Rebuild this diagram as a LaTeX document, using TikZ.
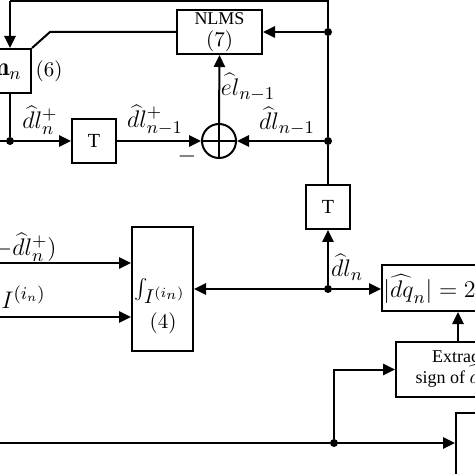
\documentclass[tikz,border=0pt]{standalone}
\usepackage{fontspec}
\newfontfamily\tms{Liberation Serif}
\usetikzlibrary{arrows.meta,calc}
\newlength\px \setlength\px{0.5pt}
\begin{document}
\begin{tikzpicture}[x=0.5pt,y=-0.5pt,
  blk/.style={draw, line width=1pt, rectangle, inner sep=0pt, align=center},
  conn/.style={line width=1pt},
  arr/.style={conn, -{Triangle[length=6pt,width=5.6pt]}},
  jdot/.style={circle, fill, inner sep=0pt, minimum size=8\px},
  lbl/.style={inner sep=0pt, font=\fontsize{13}{15}\selectfont},
  eqn/.style={inner sep=0pt, font=\fontsize{10.5}{12}\selectfont},
  txt/.style={font=\tms\fontsize{9}{10.5}\selectfont}]
\useasboundingbox (0,0) rectangle (474,474);
% blocks
\node[blk, minimum width=71\px, minimum height=44\px] (mbox) at (-4.5,71) {};
\node[lbl, anchor=base east] (mtxt) at (22,76) {$\mathbf{m}_n$};
\node[eqn] (eq6) at (49,71) {(6)};
\node[blk, minimum width=85\px, minimum height=44\px] (nlms) at (219.5,32) {{\tms\fontsize{9}{10.5}\selectfont NLMS}\\[-1pt]{\fontsize{10.5}{12}\selectfont(7)}};
\node[blk, minimum width=44\px, minimum height=44\px, font=\tms\fontsize{10}{12}\selectfont] (t1) at (94,141) {T};
\node[draw, line width=1pt, circle, inner sep=0pt, minimum size=34\px] (sum) at (219,141) {};
\node[blk, minimum width=44\px, minimum height=44\px, font=\tms\fontsize{10}{12}\selectfont] (t2) at (328,207) {T};
\node[blk, minimum width=61\px, minimum height=124\px] (intg) at (162.5,289) {};
\node[inner sep=0pt, font=\Large] (intgtxt) at (160,291) {$\int_{I^{(i_n)}}$};
\node[eqn] (eq4) at (163,323) {(4)};
\node[blk, minimum width=200\px, minimum height=46\px, anchor=west] (dq) at (381,288) {};
\node[lbl, anchor=west] (dqtxt) at (383,289) {$|\widehat{dq}_n| = 2$};
\node[blk, txt, minimum width=124\px, minimum height=55\px] (ext) at (458,369.5) {Extract\\sign of {\normalsize$\widehat{dq}_n$}};
\node[blk, minimum width=100\px, minimum height=80\px, anchor=north west] (bot) at (455,412) {};
% junctions
\node[jdot] (d1) at (10,141) {};
\node[jdot] (d2) at (328,32) {};
\node[jdot] (d3) at (328,141) {};
\node[jdot] (d4) at (328,289) {};
\node[jdot] (d5) at (334,443) {};
\coordinate (tl) at (10,0.8);
\coordinate (tr) at (328,0.8);
\coordinate (bend) at (50,32);
\coordinate (lin0) at (0,141);
\coordinate (in1) at (0,263);
\coordinate (in2) at (0,317);
\coordinate (in3) at (0,443);
% plus sign
\draw[conn] (sum.north) -- (sum.south);
\draw[conn] (sum.west) -- (sum.east);
% connectors
\draw[conn] (t2.north) -- (d3) -- (d2) -- (tr) -- (tl);
\draw[arr] (tl) -- (tl |- mbox.north);
\draw[arr] (d2) -- (nlms.east);
\draw[conn] (nlms.west) -- (bend) -- (mbox.north east);
\draw[conn] (d1 |- mbox.south) -- (d1);
\draw[conn] (lin0) -- (d1);
\draw[arr] (d1) -- (t1.west);
\draw[arr] (t1.east) -- (sum.west);
\draw[arr] (d3) -- (sum.east);
\draw[arr] (sum.north) -- (nlms.south);
\draw[arr] (d4) -- (t2.south);
\draw[arr] (d4) -- (intg.east |- d4);
\draw[arr] (d4) -- (dq.west |- d4);
\draw[arr] (in1) -- (in1 -| intg.west);
\draw[arr] (in2) -- (in2 -| intg.west);
\draw[arr] (ext.north) -- (ext.north |- dq.south);
\draw[conn] (in3) -- (d5);
\draw[arr] (d5) -- (d5 -| bot.west);
\draw[arr] (d5) |- (ext.west);
% labels
\node[lbl] (l1) at (40,120) {$\widehat{dl}{}_n^{+}$};
\node[lbl] (l2) at (155,120) {$\widehat{dl}{}_{n-1}^{+}$};
\node[lbl] (lm) at (187,157) {$-$};
\node[lbl] (l3) at (248,87) {$\widehat{el}_{n-1}$};
\node[lbl] (l4) at (287,121) {$\widehat{dl}_{n-1}$};
\node[lbl] (l5) at (347,267) {$\widehat{dl}_n$};
\node[lbl, anchor=east] (l6) at (57,247) {$-\widehat{dl}{}_n^{+})$};
\node[lbl, anchor=west] (l7) at (1,297) {$I^{(i_n)}$};
\end{tikzpicture}
\end{document}
